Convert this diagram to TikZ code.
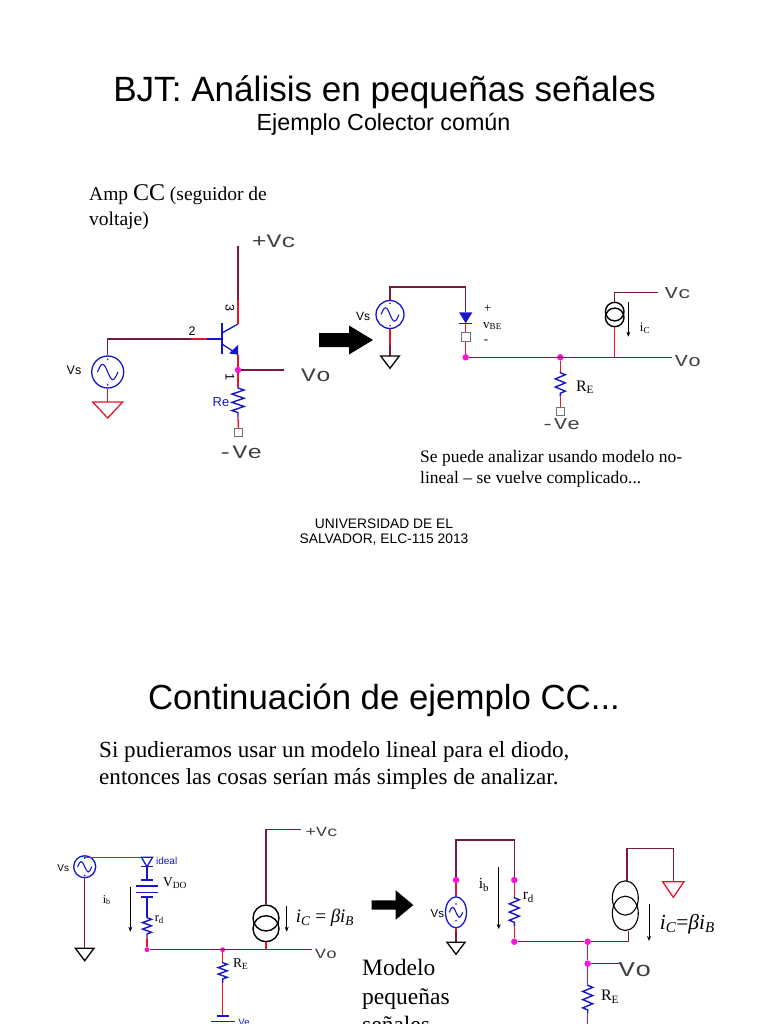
\documentclass[tikz,border=0pt]{standalone}
\usepackage{fontspec}
\setmainfont{Liberation Serif}
\newfontfamily\arialf{Liberation Sans}
\newfontfamily\widef[FakeStretch=1.3]{Liberation Mono}
\usetikzlibrary{arrows.meta,decorations.pathmorphing,shapes.geometric}

\definecolor{wirec}{HTML}{761A3E}
\definecolor{leadc}{HTML}{E2172B}
\definecolor{partc}{HTML}{1616C8}
\definecolor{dotc}{HTML}{FA14DC}

\newcommand{\fs}[1]{\fontsize{#1}{1.15\dimexpr#1pt\relax}\selectfont}

\tikzset{
  wire/.style={draw=wirec,line width=1.3pt},
  lead/.style={draw=leadc,line width=1.3pt},
  part/.style={draw=partc,line width=1.3pt},
  res/.style={draw=partc,line width=1.4pt,decorate,
    decoration={zigzag,amplitude=#1,segment length=8.2,pre length=1,post length=1}},
  dot/.style={circle,fill=dotc,inner sep=0,minimum size=6.5},
  pin/.style={rectangle,draw=black!55,fill=white,line width=0.9pt,inner sep=0,minimum size=8.5},
  vsrc/.style={circle,draw=partc,line width=1.3pt,inner sep=0,minimum size=#1,
    path picture={\draw[partc,line width=1.1pt] ([xshift=-0.32*#1]path picture bounding box.center)
      sin ++(0.16*#1,-0.24*#1) cos ++(0.16*#1,0.24*#1) sin ++(0.16*#1,0.24*#1) cos ++(0.16*#1,-0.24*#1);
      \fill[partc] ([yshift=0.4*#1]path picture bounding box.center) circle (0.9);
      \fill[partc] ([yshift=-0.4*#1]path picture bounding box.center) circle (0.9);}},
  csrc/.style={circle,draw=black,line width=1.4pt,inner sep=0,minimum size=#1},
  cur/.style={-{Stealth[length=5,width=4]},line width=0.7pt},
  big/.style={fill=black,draw=none},
  ar/.style={font=\arialf\fs{#1},inner sep=0},
  se/.style={font=\fs{#1},inner sep=0},
  wd/.style={font=\widef\fs{#1},inner sep=0,text=black!75}
}

\newcommand{\gndsym}[4][black]{\draw[#1,line width=1.3pt] (#2) -- ++(-#3,0) -- ++(#3,#4) -- ++(#3,-#4) -- cycle;}
\newcommand{\bigarrow}[5]{\fill[big] (#1) -- ++(-#2,-#3) -- ++(0,#3-#5) -- ++(-#4,0) -- ++(0,2*#5) -- ++(#4,0) -- ++(0,#3-#5) -- cycle;}

\begin{document}
\begin{tikzpicture}[x=1pt,y=-1pt]
\useasboundingbox (0,0) rectangle (768,1024);
\clip (0,0) rectangle (768,1024);

% titles
\node[ar=35.1] (title1) at (384.5,92) {BJT: Análisis en pequeñas señales};
\node[ar=23.3] (sub1) at (383.5,124) {Ejemplo Colector común};
\node[se=19.5,anchor=west,align=left] (amp) at (89,207) {Amp {\fs{24}CC} (seguidor de\\[2pt]voltaje)};
\node[se=17.5,anchor=west,align=left] (nota) at (420,469) {Se puede analizar usando modelo no-\\[1pt]lineal -- se vuelve complicado...};
\node[ar=13.8,align=center] (univ) at (384,532) {UNIVERSIDAD DE EL\\SALVADOR, ELC-115 2013};
\node[ar=34.8] (title2) at (384,700) {Continuación de ejemplo CC...};
\node[se=23.1,anchor=west,align=left] (texto) at (99,765.5) {Si pudieramos usar un modelo lineal para el diodo,\\entonces las cosas serían más simples de analizar.};
\node[se=23.5,anchor=north west,align=left] (modelo) at (362,959) {Modelo\\[1.5pt]pequeñas\\[1.5pt]señales};

% amplificador
\node[vsrc=32] (vsA) at (107.7,372) {};
\coordinate (gA) at (107.7,402);
\coordinate (baseA) at (222,339);
\coordinate (colA) at (238,324);
\coordinate (emA) at (238,354.5);
\coordinate (vcA) at (238,246);
\node[dot] (nA) at (238,370) {};
\coordinate (voA) at (284,370);
\node[pin] (pinA) at (238.5,432.5) {};
\coordinate (r1A) at (238,387);
\coordinate (r2A) at (238,417);
\draw[wire] (vsA.north) |- (191,339);
\draw[lead] (191,339) -- (207,339);
\draw[part] (207,339) -- (baseA);
\draw[part,line width=1.5pt] (222,323) -- (222,354);
\draw[part] (222,333) -- (colA);
\draw[part] (222,344) -- (emA);
\fill[partc] (229,353.5) -- (238,345) -- (emA) -- cycle;
\draw[lead] (colA) -- (238,300);
\draw[wire] (238,300) -- (vcA);
\draw[lead] (emA) -- (nA);
\draw[wire] (nA) -- (voA);
\draw[lead] (nA) -- (r1A);
\draw[res=6] (r1A) -- (r2A);
\draw[lead] (r2A) -- (pinA);
\draw[lead] (vsA.south) -- (gA);
\gndsym[leadc]{gA}{15}{16}
\node[ar=12.5] (lvsA) at (74,370) {Vs};
\node[ar=12.5] (l2) at (192,331) {2};
\node[ar=12.5,rotate=-90] (l3) at (230,308) {3};
\node[ar=12.5,rotate=-90] (l1) at (230,377) {1};
\node[ar=13,text=partc] (lre) at (221,402) {Re};
\node[wd=19] (lvcA) at (274,241) {+Vc};
\node[wd=19] (lvoA) at (316,375) {Vo};
\node[wd=19] (lveA) at (240,452) {-Ve};

\bigarrow{373,340}{24}{14.5}{30}{7}

% modelo no lineal
\node[vsrc=28] (vsB) at (390,314.5) {};
\coordinate (gB) at (390,356);
\coordinate (dB) at (465.7,312.3);
\node[pin] (pinB) at (465.7,337) {};
\node[dot] (n1B) at (465.7,357.3) {};
\node[dot] (n2B) at (560.3,357.3) {};
\coordinate (r1B) at (560.3,371.7);
\coordinate (r2B) at (560.3,396.7);
\node[pin] (pinC) at (560.3,411.5) {};
\coordinate (voB) at (671.7,357.3);
\node[csrc=18.6] (c1B) at (614.7,311.6) {};
\node[csrc=18.6] (c2B) at (614.7,317.4) {};
\coordinate (jB) at (614.7,357.3);
\coordinate (vcB) at (658.3,292.7);
\draw[wire] (vsB.north) |- (465.7,287) -- (dB);
\draw[lead] (390,345) -- (vsB.south);
\draw[wire] (gB) -- (390,345);
\gndsym{gB}{9.3}{12.3}
\fill[partc] (dB) -- ++(-6.7,0) -- ++(6.7,11) -- ++(6.7,-11) -- cycle;
\draw[part,line width=1.5pt] (459,323.5) -- (472.4,323.5);
\draw[lead] (465.7,323.5) -- (pinB);
\draw[lead] (pinB) -- (n1B);
\draw[wire] (n1B) -- (voB);
\draw[lead,line width=1.6pt] (n2B) -- (r1B);
\draw[res=5] (r1B) -- (r2B);
\draw[lead,line width=1.6pt] (r2B) -- (pinC);
\draw[lead] (c2B.south) -- (jB);
\draw[wire] (c1B.north) |- (vcB);
\draw[cur] (628.3,302.3) -- (628.3,336.7);
\node[ar=12] (lvsB) at (363,316.7) {Vs};
\node[se=13] (lp) at (487.7,309) {+};
\node[se=13] (lvbe) at (492.5,326) {v\textsubscript{BE}};
\node[se=13] (lm) at (486,341.7) {-};
\node[se=13] (lic) at (645,328) {i\textsubscript{C}};
\node[se=16] (lreB) at (585,387.3) {R\textsubscript{E}};
\node[wd=16.7] (lvcB) at (678,292.7) {Vc};
\node[wd=16.7] (lvoB) at (688,360.7) {Vo};
\node[wd=16.7] (lveB) at (560.7,424.5) {-Ve};

% modelo lineal del diodo
\node[vsrc=22] (vsC) at (84.7,866.7) {};
\coordinate (gC) at (84.7,948.3);
\coordinate (dC) at (147,857.3);
\node[dot,minimum size=5] (n1C) at (147,949.7) {};
\node[dot,minimum size=5] (n2C) at (222.7,949.7) {};
\coordinate (r1C) at (147,916.7);
\coordinate (r2C) at (147,937.7);
\coordinate (r3C) at (222.7,961.7);
\coordinate (r4C) at (222.7,983);
\coordinate (batC) at (222.7,1015.5);
\coordinate (voC) at (311.7,949.7);
\node[csrc=26] (c1C) at (266,918) {};
\node[csrc=26] (c2C) at (266,928.7) {};
\coordinate (jC) at (266,949.7);
\coordinate (vcC) at (300.7,829.3);
\draw[lead] (vsC.north) |- (dC);
\draw[wire] (vsC.south) -- (gC);
\gndsym{gC}{9.3}{12.4}
\draw[part] (dC) -- ++(-5.6,0) -- ++(5.6,9.4) -- ++(5.6,-9.4) -- cycle;
\draw[part] (141,866.7) -- (153,866.7);
\draw[part] (147,866.7) -- (147,880);
\foreach \y/\w in {880/6,886/11,892.7/11,897/6}
  \draw[part] (147-\w,\y) -- (147+\w,\y);
\draw[part] (147,897) -- (r1C);
\draw[res=4.5,decoration={segment length=6.5}] (r1C) -- (r2C);
\draw[lead] (r2C) -- (n1C);
\draw[wire] (n1C) -- (voC);
\draw[lead] (n2C) -- (r3C);
\draw[res=4.5,decoration={segment length=6.5}] (r3C) -- (r4C);
\draw[lead] (r4C) -- (batC);
\draw[part] (216.7,1016) -- (229,1016);
\draw[part] (211,1021.7) -- (235,1021.7);
\draw[lead] (c2C.south) -- (jC);
\draw[wire] (c1C.north) |- (vcC);
\draw[cur] (130.3,886.7) -- (130.3,931.7);
\draw[cur] (286.7,905.7) -- (286.7,931.7);
\node[ar=10] (lvsC) at (63.3,867.7) {Vs};
\node[se=12] (lib) at (106.7,900) {i\textsubscript{b}};
\node[ar=10,text=partc] (lid) at (166.7,860.7) {ideal};
\node[se=13.5] (lvdo) at (175,883) {V\textsubscript{DO}};
\node[se=12.5] (lrd) at (159.3,919.5) {r\textsubscript{d}};
\node[se=19] (lic2) at (325,918) {\textit{i\textsubscript{C}} = \textit{βi\textsubscript{B}}};
\node[se=13.5] (lreC) at (240.7,964) {R\textsubscript{E}};
\node[ar=9.5,text=partc] (lve2) at (244,1022) {Ve};
\node[wd=14] (lvcC) at (321.7,832) {+Vc};
\node[wd=14] (lvoC) at (326,954) {Vo};

\bigarrow{413.3,905}{17.6}{14.7}{24}{4.7}

% modelo pequenas senales
\node[vsrc=21,ellipse,minimum height=31] (vsD) at (456,912.3) {};
\node[dot] (n1D) at (456,880) {};
\node[dot] (n2D) at (514.3,880) {};
\coordinate (r1D) at (514.3,896.7);
\coordinate (r2D) at (514.3,926.7);
\node[dot] (n3D) at (514.3,941.7) {};
\node[dot] (n4D) at (587.7,941.7) {};
\node[dot] (n5D) at (587.7,963.7) {};
\coordinate (voD) at (621.7,963.7);
\coordinate (r3D) at (587.7,984.3);
\coordinate (r4D) at (587.7,1013.3);
\coordinate (endD) at (587.7,1024);
\coordinate (gD) at (456,942.3);
\coordinate (gE) at (673.3,881.7);
\draw[wire] (n1D) |- (514.3,840) -- (n2D);
\draw[lead] (n1D) -- (vsD.north);
\draw[lead] (vsD.south) -- (456,932);
\draw[wire] (456,932) -- (gD);
\gndsym{gD}{9}{12}
\draw[lead] (n2D) -- (r1D);
\draw[res=5] (r1D) -- (r2D);
\draw[lead] (r2D) -- (n3D);
\draw[wire] (n3D) -- (n4D);
\draw[wire] (n4D) -- (628.7,941.7) -- (628.7,931);
\draw[lead] (n4D) -- (n5D);
\draw[wire] (n5D) -- (voD);
\draw[lead] (n5D) -- (r3D);
\draw[res=5] (r3D) -- (r4D);
\draw[lead] (r4D) -- (endD);
\draw[black,line width=1.1pt] (625.3,898) ellipse (13 and 17.2);
\draw[black,line width=1.1pt] (625.3,913.3) ellipse (13 and 17.2);
\draw[wire] (627,880.7) |- (673.3,848.3) -- (gE);
\gndsym[leadc]{gE}{10.7}{15.6}
\draw[cur] (498.7,867.3) -- (498.7,929);
\draw[cur] (649,904.3) -- (649,941);
\node[ar=11.5] (lvsD) at (437.3,913.3) {Vs};
\node[se=15.5] (libD) at (484,885) {i\textsubscript{b}};
\node[se=15.5] (lrdD) at (528.3,897.3) {r\textsubscript{d}};
\node[se=21.5] (licD) at (687.3,924) {\textit{i\textsubscript{C}}=\textit{βi\textsubscript{B}}};
\node[se=16] (lreD) at (610,996.7) {R\textsubscript{E}};
\node[wd=21] (lvoD) at (635,970) {Vo};

\end{tikzpicture}
\end{document}
